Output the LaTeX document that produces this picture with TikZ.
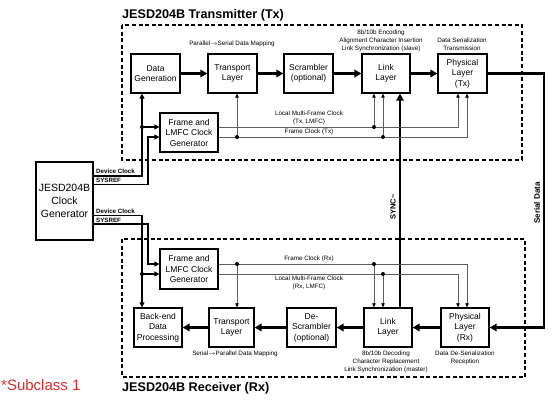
\documentclass[tikz,border=0pt]{standalone}
\usepackage{fontspec}
\setmainfont{Liberation Sans}
\usetikzlibrary{arrows.meta}
\definecolor{subred}{RGB}{222,45,45}
\definecolor{clkgray}{RGB}{95,95,95}
\tikzset{
  block/.style={draw, line width=1.3pt, align=center, inner sep=0pt,
    font=\fontsize{8.5}{10.5}\selectfont},
  small/.style={align=center, inner sep=0pt, font=\fontsize{6.3}{8}\selectfont},
  tag/.style={inner sep=0pt, anchor=west, font=\fontsize{6.2}{7}\selectfont\bfseries},
  title/.style={inner sep=0pt, anchor=west, font=\fontsize{12.6}{14}\selectfont\bfseries},
  framebox/.style={draw, line width=1.3pt, dash pattern=on 4pt off 2.6pt},
  data/.style={line width=2.2pt, -{Triangle[length=7pt,width=7.5pt]}},
  clk/.style={line width=0.6pt, draw=clkgray, -{Triangle[length=4pt,width=3.4pt,fill=black,color=black]}},
  clkline/.style={line width=0.6pt, draw=clkgray},
  dclk/.style={line width=1.2pt, -{Triangle[length=5pt,width=5pt]}},
  dclkline/.style={line width=1.2pt},
  dot/.style={circle, fill=black, inner sep=0pt, minimum size=4pt},
}
\begin{document}
\begin{tikzpicture}[x=1pt,y=-1pt]
\useasboundingbox (0,0) rectangle (554,400);
% frames
\draw[framebox] (122,25) rectangle (522,160);
\draw[framebox] (122,239) rectangle (525,377);
\node[title] (ttl) at (122,15) {JESD204B Transmitter (Tx)};
\node[title] (rtl) at (122,388) {JESD204B Receiver (Rx)};
% Tx blocks
\node[block, minimum width=49pt, minimum height=39pt] (dg) at (155.5,73.5) {Data\\Generation};
\node[block, minimum width=49pt, minimum height=39pt] (ttx) at (232.5,73.5) {Transport\\Layer};
\node[block, minimum width=49pt, minimum height=39pt] (scr) at (308.5,73.5) {Scrambler\\(optional)};
\node[block, minimum width=48pt, minimum height=39pt] (ltx) at (386,73.5) {Link\\Layer};
\node[block, minimum width=49pt, minimum height=39pt] (ptx) at (462.5,73.5) {Physical\\Layer\\(Tx)};
\node[block, minimum width=58pt, minimum height=39pt] (ftx) at (189,132.5) {Frame and\\LMFC Clock\\Generator};
% clock generator
\node[block, minimum width=57pt, minimum height=78pt, font=\fontsize{10.5}{13}\selectfont] (cg) at (64.5,201) {JESD204B\\Clock\\Generator};
% Rx blocks
\node[block, minimum width=58pt, minimum height=40pt] (frx) at (189,269) {Frame and\\LMFC Clock\\Generator};
\node[block, minimum width=48pt, minimum height=39pt] (be) at (158,327.5) {Back-end\\Data\\Processing};
\node[block, minimum width=45pt, minimum height=39pt] (trx) at (231.5,327.5) {Transport\\Layer};
\node[block, minimum width=49pt, minimum height=39pt] (dsc) at (311.5,327.5) {De-\\Scrambler\\(optional)};
\node[block, minimum width=48pt, minimum height=39pt] (lrx) at (388,327.5) {Link\\Layer};
\node[block, minimum width=48pt, minimum height=39pt] (prx) at (465,327.5) {Physical\\Layer\\(Rx)};
% Tx small labels
\node[small] (l1) at (232,44) {Parallel$\rightarrow$Serial Data Mapping};
\node[small] (l2) at (381,41) {8b/10b Encoding\\Alignment Character Insertion\\Link Synchronization (slave)};
\node[small] (l3) at (462,44) {Data Serialization\\Transmission};
\node[small] (l4) at (309,118) {Local Multi-Frame Clock\\(Tx, LMFC)};
\node[small] (l5) at (309,132) {Frame Clock (Tx)};
% Rx small labels
\node[small] (l6) at (235,354) {Serial$\rightarrow$Parallel Data Mapping};
\node[small] (l7) at (386,362) {8b/10b Decoding\\Character Replacement\\Link Synchronization (master)};
\node[small] (l8) at (465,358) {Data De-Serialization\\Reception};
\node[small] (l9) at (309,259) {Frame Clock (Rx)};
\node[small] (l10) at (309,283) {Local Multi-Frame Clock\\(Rx, LMFC)};
% tags
\node[tag] (t1) at (96,171.5) {Device Clock};
\node[tag] (t2) at (96,180.5) {SYSREF};
\node[tag] (t3) at (96,211) {Device Clock};
\node[tag] (t4) at (96,220.5) {SYSREF};
\node[rotate=90, inner sep=0pt, font=\fontsize{7.5}{9}\selectfont\bfseries] (syl) at (393,207) {SYNC\textasciitilde};
\node[rotate=90, inner sep=0pt, font=\fontsize{8}{9}\selectfont\bfseries] (sdl) at (537,203) {Serial Data};
\node[inner sep=0pt, anchor=west, text=subred, font=\fontsize{15}{17}\selectfont] (sub) at (1,385) {*Subclass 1};
% helper coordinates
\coordinate (lT) at (0,127);
\coordinate (fT) at (0,137);
\coordinate (fR) at (0,264);
\coordinate (lR) at (0,274);
\coordinate (dT) at (0,176);
\coordinate (sT) at (0,184.5);
\coordinate (dR) at (0,215.5);
\coordinate (sR) at (0,224);
\coordinate (dx) at (142,0);
\coordinate (sx) at (148,0);
\coordinate (tA) at (237,0);
\coordinate (kA) at (374,0);
\coordinate (kB) at (383,0);
\coordinate (pA) at (458,0);
\coordinate (pB) at (467,0);
\coordinate (sy) at (400,0);
\coordinate (sd) at (544,0);
% Tx data path
\draw[data] (dg.east) -- (ttx.west);
\draw[data] (ttx.east) -- (scr.west);
\draw[data] (scr.east) -- (ltx.west);
\draw[data] (ltx.east) -- (ptx.west);
% Rx data path
\draw[data] (prx.west) -- (lrx.east);
\draw[data] (lrx.west) -- (dsc.east);
\draw[data] (dsc.west) -- (trx.east);
\draw[data] (trx.west) -- (be.east);
% serial data
\draw[data] (ptx.east) -- (ptx.east -| sd) -- (prx.east -| sd) -- (prx.east);
% sync
\draw[data] (lrx.north -| sy) -- (ltx.south -| sy);
% Tx clocks
\draw[clk] (ftx.east |- lT) -- (lT -| pA) -- (ptx.south -| pA);
\draw[clk] (ftx.east |- fT) -- (fT -| pB) -- (ptx.south -| pB);
\draw[clk] (fT -| tA) -- (ttx.south -| tA);
\draw[clk] (lT -| kA) -- (ltx.south -| kA);
\draw[clk] (fT -| kB) -- (ltx.south -| kB);
\node[dot] (d1) at (fT -| tA) {};
\node[dot] (d2) at (lT -| kA) {};
\node[dot] (d3) at (fT -| kB) {};
% Rx clocks
\draw[clk] (frx.east |- fR) -- (fR -| pB) -- (prx.north -| pB);
\draw[clk] (frx.east |- lR) -- (lR -| pA) -- (prx.north -| pA);
\draw[clk] (fR -| tA) -- (trx.north -| tA);
\draw[clk] (fR -| kA) -- (lrx.north -| kA);
\draw[clk] (lR -| kB) -- (lrx.north -| kB);
\node[dot] (d4) at (fR -| tA) {};
\node[dot] (d5) at (fR -| kA) {};
\node[dot] (d6) at (lR -| kB) {};
% device clock / sysref Tx
\draw[dclk] (cg.east |- dT) -- (dT -| dx) -- (dg.south -| dx);
\draw[dclk] (dx |- lT) -- (ftx.west |- lT);
\draw[dclk] (cg.east |- sT) -- (sT -| sx) -- (sx |- fT) -- (ftx.west |- fT);
\node[dot] (d7) at (dx |- lT) {};
% device clock / sysref Rx
\draw[dclk] (cg.east |- dR) -- (dR -| dx) -- (be.north -| dx);
\draw[dclk] (dx |- lR) -- (frx.west |- lR);
\draw[dclk] (cg.east |- sR) -- (sR -| sx) -- (sx |- fR) -- (frx.west |- fR);
\node[dot] (d8) at (dx |- lR) {};
\end{tikzpicture}
\end{document}
